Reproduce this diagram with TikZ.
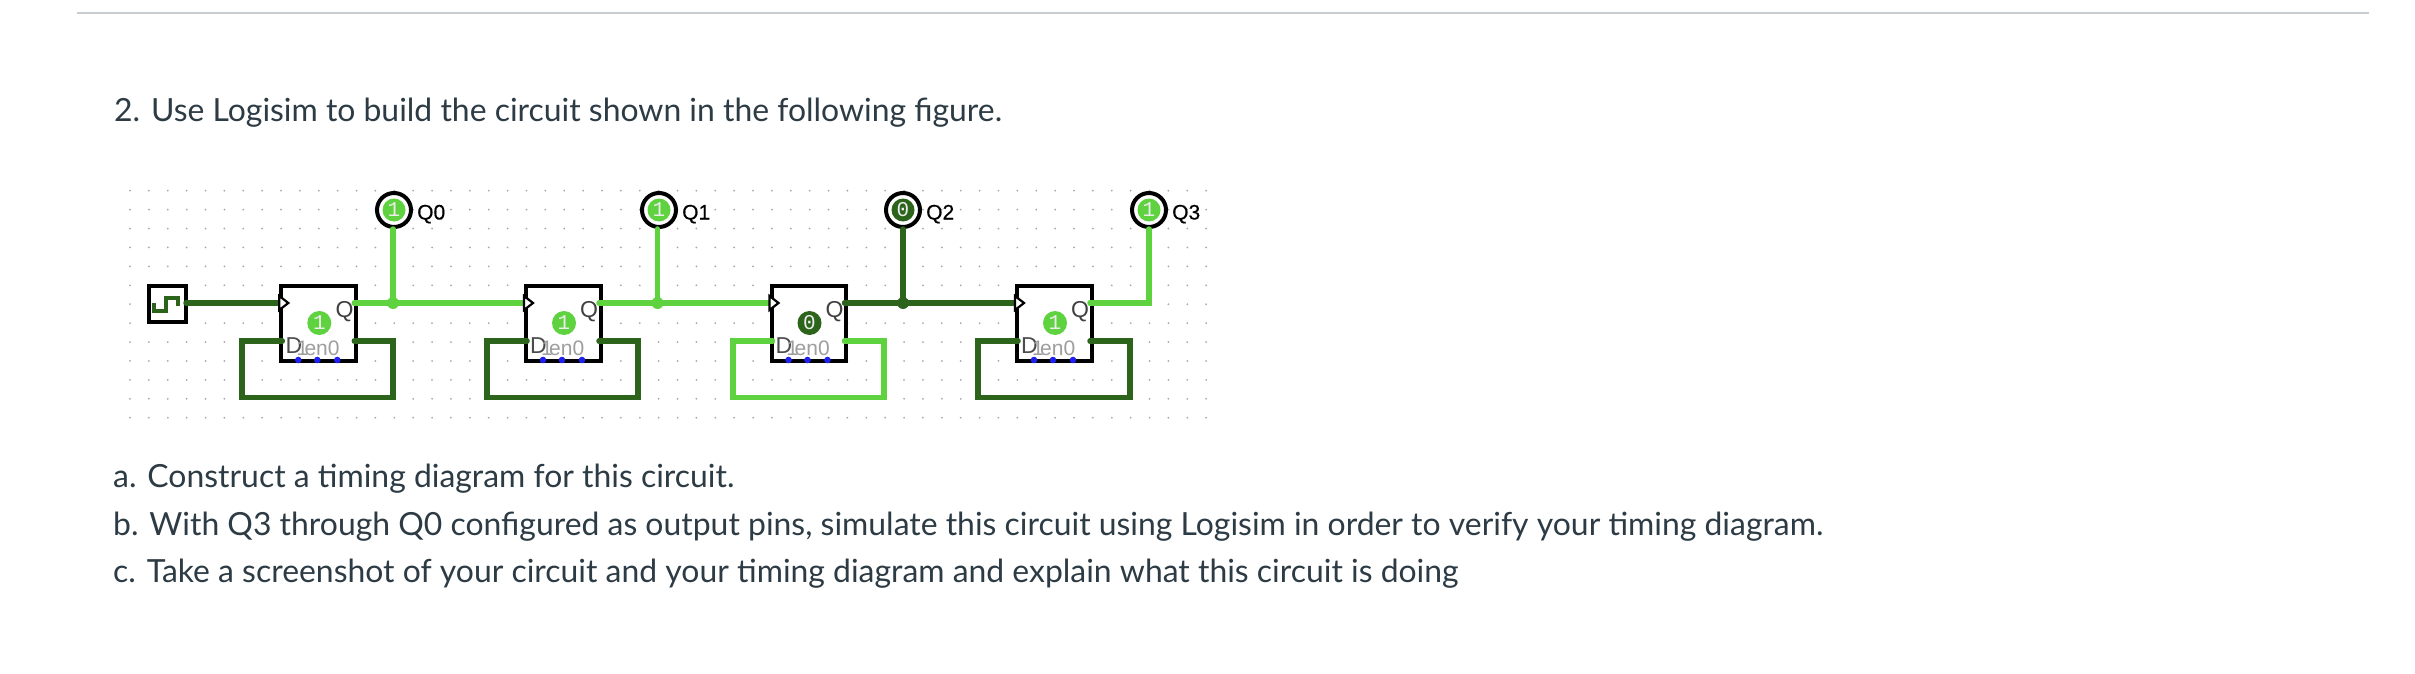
\documentclass[tikz,border=0pt]{standalone}
\usepackage{fontspec}
\setmainfont{Lato}
\newfontfamily\arialfont{Liberation Sans}
\newfontfamily\pinfont[FakeBold=0.5]{Liberation Sans}
\newfontfamily\statefont{Liberation Mono}
\usetikzlibrary{calc}
\definecolor{texti}{HTML}{2D3B45}
\definecolor{wireon}{HTML}{5FD33F}
\definecolor{wireoff}{HTML}{2C641C}
\definecolor{dotgrey}{HTML}{A8A8A8}
\definecolor{rulegrey}{HTML}{C7CDD1}
\definecolor{pinblue}{HTML}{2020F0}
\tikzset{
  x=1pt,y=-1pt,
  prose/.style={anchor=base west,inner sep=0,text=texti,font=\fontsize{31.9}{38}\selectfont},
  ffbox/.style={draw=black,line width=4pt,fill=white,minimum width=74.5pt,minimum height=74.4pt,inner sep=0,anchor=north west},
  wire/.style={line width=5.5pt,line join=miter,line cap=round},
  on/.style={wire,draw=wireon},
  off/.style={wire,draw=wireoff},
  state/.style={circle,inner sep=0,minimum size=24pt,text=white!85!gray,font=\statefont\fontsize{21}{21}\selectfont},
  pinring/.style={circle,draw=black,line width=4pt,fill=white,minimum size=34pt,inner sep=0},
  pinname/.style={anchor=base west,inner sep=0,font=\pinfont\fontsize{21}{21}\selectfont,text=black},
  ffq/.style={anchor=base west,inner sep=0,font=\arialfont\fontsize{23}{23}\selectfont,text=black!75},
  ffd/.style={anchor=base west,inner sep=0,font=\arialfont\fontsize{23}{23}\selectfont,text=black!70},
  ffen/.style={anchor=base west,inner sep=0,font=\arialfont\fontsize{21}{21}\selectfont,text=black!38},
  junction/.style={circle,inner sep=0,minimum size=12pt},
}
% #1 name, #2 left x
\newcommand{\flipflop}[2]{%
  \node[ffbox] (#1) at (#2,284.3) {};
  \coordinate (#1clk) at (#2,303);
  \coordinate (#1q) at ($(#2,303)+(75,0)$);
  \coordinate (#1d) at ($(#2,341)+(3,0)$);
  \coordinate (#1nq) at ($(#2,341)+(75,0)$);
}
\newcommand{\ffparts}[4]{%
  \fill[white,draw=black,line width=2.2pt] (#2,296) -- (#2+9,303) -- (#2,310) -- cycle;
  \node[state,fill=#3] (#1s) at (#2+40,323) {#4};
  \node[ffq] (#1ql) at (#2+56,317) {Q};
  \node[ffd] (#1dl) at (#2+6,353) {D};
  \node[ffen] (#1onel) at (#2+17,355) {1};
  \node[ffen] (#1enl) at (#2+25,355) {en0};
  \foreach \bx in {19,38,58} \fill[pinblue] (#2+\bx,360) circle (3.3pt);
}
\newcommand{\outpin}[5]{%
  \node[pinring] (#1) at (#2,210) {};
  \node[state,fill=#3,minimum size=23pt] (#1v) at (#2,210) {#4};
  \node[pinname] (#1l) at (#2+23,219.5) {#5};
}
\begin{document}
\begin{tikzpicture}
\useasboundingbox (0,0) rectangle (2415,674);
\fill[white] (0,0) rectangle (2415,674);
% top rule
\coordinate (ruleL) at (77,12.7);
\coordinate (ruleR) at (2369,12.7);
\draw[rulegrey,line width=2pt] (ruleL) -- (ruleR);
% text
\node[prose] (title) at (114,122) {2. Use Logisim to build the circuit shown in the following figure.};
\node[prose] (parta) at (113,487) {a. Construct a timing diagram for this circuit.};
\node[prose] (partb) at (113,535) {b. With Q3 through Q0 configured as output pins, simulate this circuit using Logisim in order to verify your timing diagram.};
\node[prose] (partc) at (113,582) {c. Take a screenshot of your circuit and your timing diagram and explain what this circuit is doing};
% dot grid
\foreach \r in {0,...,12}
  \foreach \c in {0,...,57}
    \fill[dotgrey] (130+\c*18.88,190.7+\r*18.92) circle (1pt);
% flip-flop boxes
\flipflop{ffa}{279.3}
\flipflop{ffb}{524}
\flipflop{ffc}{769.5}
\flipflop{ffd}{1015}
% clock
\node[draw=black,line width=4pt,fill=white,minimum width=37.6pt,minimum height=36pt,inner sep=0] (clk) at (167.5,304) {};
\coordinate (clkout) at (186,303);
\draw[wireoff,line width=4pt,line join=miter] (154,303) -- (154,311.3) -- (166,311.3) -- (166,298) -- (178.3,298) -- (178.3,306);
% output pins
\outpin{pa}{394}{wireon}{1}{Q0}
\outpin{pb}{659}{wireon}{1}{Q1}
\outpin{pc}{903}{wireoff}{0}{Q2}
\outpin{pd}{1149}{wireon}{1}{Q3}
% junctions
\coordinate (ja) at (393,303);
\coordinate (jb) at (657.5,303);
\coordinate (jc) at (903,303);
% main wires
\draw[off] (clkout) -- (ffaclk);
\draw[on] (ffaq) -- (ffbclk);
\draw[on] (ffbq) -- (ffcclk);
\draw[off] (ffcq) -- (ffdclk);
\draw[on] (ja) -- (ja |- pa.south);
\draw[on] (jb) -- (jb |- pb.south);
\draw[off] (jc) -- (jc |- pc.south);
\draw[on] (ffdq) -| (pd.south);
\node[junction,fill=wireon] (ja0) at (ja) {};
\node[junction,fill=wireon] (jb0) at (jb) {};
\node[junction,fill=wireoff] (jc0) at (jc) {};
% feedback loops
\draw[off] (ffad) -- (242,341) -- (242,397.3) -- (393,397.3) -- (393,341) -- (ffanq);
\draw[off] (ffbd) -- (487,341) -- (487,397.3) -- (638,397.3) -- (638,341) -- (ffbnq);
\draw[on] (ffcd) -- (733,341) -- (733,397.3) -- (884,397.3) -- (884,341) -- (ffcnq);
\draw[off] (ffdd) -- (978,341) -- (978,397.3) -- (1130,397.3) -- (1130,341) -- (ffdnq);
% flip-flop details over the wires
\ffparts{ffa}{279.3}{wireon}{1}
\ffparts{ffb}{524}{wireon}{1}
\ffparts{ffc}{769.5}{wireoff}{0}
\ffparts{ffd}{1015}{wireon}{1}
\end{tikzpicture}
\end{document}
